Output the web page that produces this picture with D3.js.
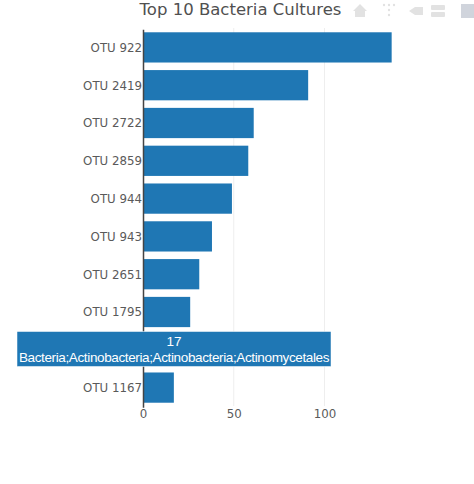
<!DOCTYPE html>
<html>
<head>
<meta charset="utf-8">
<script src="https://cdn.jsdelivr.net/npm/d3@7"></script>
<style>
	html, body { margin: 0; padding: 0; background: #fff; }
	svg { display: block; }
</style>
</head>
<body>
<div id="chart"></div>
<script>
"use strict";

const titleText = "Top 10 Bacteria Cultures";
// the ninth label sits behind the hover box in the picture, so it cannot be read
const categories = ["OTU 922", "OTU 2419", "OTU 2722", "OTU 2859", "OTU 944", "OTU 943", "OTU 2651", "OTU 1795", "", "OTU 1167"];
const values = [137, 91, 61, 58, 49, 38, 31, 26, 21, 17];
const xTicks = [0, 50, 100];
const hoverIndex = 9;
const hoverLabel = "Bacteria;Actinobacteria;Actinobacteria;Actinomycetales";

const width = 474;
const height = 484;
const barColor = "#1f77b4";
const textColor = "#5a5a5a";

const svg = d3.select("#chart").append("svg").attr("width", width).attr("height", height);

const x = d3.scaleLinear().domain([0, 100]).range([143, 324.5]);
const y = d3.scaleBand().domain(categories).range([28.5, 406.5]).paddingInner(0.2).paddingOuter(0.1);

// grid
svg.append("g").selectAll("line").data(xTicks.slice(1)).join("line")
	.attr("x1", d => x(d)).attr("x2", d => x(d))
	.attr("y1", 28).attr("y2", 406)
	.attr("stroke", "#eeeeee");

// bars
svg.append("g").selectAll("rect").data(values).join("rect")
	.attr("x", x(0))
	.attr("y", (d, i) => y(categories[i]))
	.attr("width", d => x(d) - x(0))
	.attr("height", y.bandwidth())
	.attr("fill", barColor);

// axes
const yAxis = svg.append("g").attr("transform", `translate(${x(0)},0.7)`)
	.call(d3.axisLeft(y).tickSize(0).tickPadding(1));
yAxis.select(".domain").attr("stroke", "#444444").attr("stroke-width", 1.5);
yAxis.selectAll("text")
	.attr("font-family", "'DejaVu Sans', sans-serif").attr("font-size", 11.8).attr("fill", textColor);

const xAxis = svg.append("g").attr("transform", "translate(0,407)")
	.call(d3.axisBottom(x).tickValues(xTicks).tickSize(0).tickPadding(3));
xAxis.select(".domain").remove();
xAxis.selectAll("text")
	.attr("font-family", "'DejaVu Sans', sans-serif").attr("font-size", 11.8).attr("fill", textColor);

// title
svg.append("text")
	.attr("x", 240.5).attr("y", 14.5)
	.attr("text-anchor", "middle")
	.attr("font-family", "'DejaVu Sans', sans-serif").attr("font-size", 16.5)
	.attr("fill", "#505050")
	.text(titleText);

// modebar, very faint in the picture
const modebar = svg.append("g").attr("fill", "#e2e2e2");
modebar.append("path").attr("d", "M353 11 L360 4 L367 11 L365 11 L365 17 L355 17 L355 11 Z");
modebar.selectAll("circle.spike").data([[384, 5], [389, 5], [394, 5], [389, 10], [389, 15]]).join("circle")
	.attr("cx", d => d[0]).attr("cy", d => d[1]).attr("r", 1.2);
modebar.append("path").attr("d", "M409 11 L415 7 L423 7 L423 15 L415 15 Z");
modebar.append("rect").attr("x", 431).attr("y", 5).attr("width", 14).attr("height", 5).attr("rx", 1);
modebar.append("rect").attr("x", 431).attr("y", 12).attr("width", 14).attr("height", 5).attr("rx", 1);
modebar.append("rect").attr("x", 461).attr("y", 4).attr("width", 13).attr("height", 14).attr("fill", "#d0d4dc");

// hover box
const hoverCy = y(categories[hoverIndex - 1]) + y.bandwidth() / 2 - 0.8;
const hover = svg.append("g");
hover.append("rect")
	.attr("x", 17).attr("y", hoverCy - 17.5)
	.attr("width", 314).attr("height", 35)
	.attr("fill", barColor).attr("stroke", "#ffffff").attr("stroke-width", 0.5);
hover.selectAll("text").data([values[hoverIndex], hoverLabel]).join("text")
	.attr("x", 174)
	.attr("y", (d, i) => hoverCy - 3 + i * 16)
	.attr("text-anchor", "middle")
	.attr("font-family", "'Liberation Sans', Arial, sans-serif").attr("font-size", 13.5)
	.attr("letter-spacing", (d, i) => i ? -0.37 : 0)
	.attr("fill", "#ffffff")
	.text(d => d);
</script>
</body>
</html>
